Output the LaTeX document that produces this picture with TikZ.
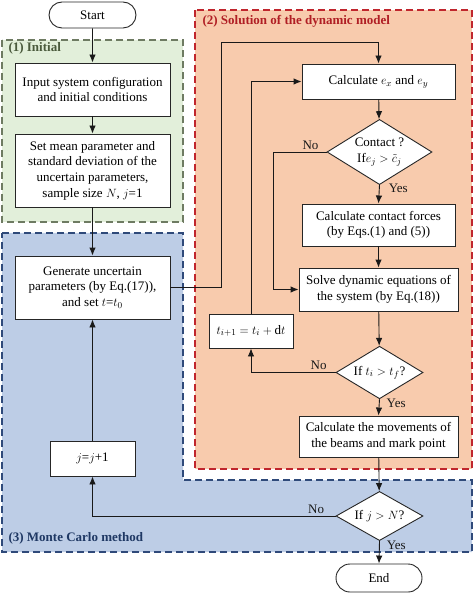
\documentclass[tikz,border=0pt]{standalone}
\usepackage{fontspec}
\setmainfont{Liberation Serif}
\usetikzlibrary{shapes.geometric, shapes.misc, arrows.meta}
\definecolor{mGreenFill}{HTML}{E2EFDA}
\definecolor{mGreenLine}{HTML}{6E7B62}
\definecolor{mGreenText}{HTML}{4A5A3C}
\definecolor{mRedFill}{HTML}{F8CBAD}
\definecolor{mRedLine}{HTML}{C0262D}
\definecolor{mRedText}{HTML}{B01E24}
\definecolor{mBlueFill}{HTML}{BDCDE6}
\definecolor{mBlueLine}{HTML}{2F4A7A}
\definecolor{mBlueText}{HTML}{1F3864}
\tikzset{
  region/.style={line width=1.1pt, dash pattern=on 7pt off 4pt},
  title/.style={anchor=west, font=\fontsize{13}{15}\selectfont\bfseries},
  procbox/.style={rectangle, draw=black!85, line width=0.9pt, fill=white, align=center, inner sep=1pt},
  decision/.style={diamond, draw=black!85, line width=0.9pt, fill=white, align=center, inner sep=-3pt},
  terminal/.style={rounded rectangle, draw=black!85, line width=0.9pt, fill=white, inner sep=1pt},
  flow/.style={->, line width=0.9pt, black!90},
  tag/.style={font=\fontsize{13}{15}\selectfont, inner sep=1pt}
}
\begin{document}
\begin{tikzpicture}[x=1pt, y=-1pt, >={Latex[length=8pt,width=6.5pt]},
  every node/.append style={font=\fontsize{13}{15.6}\selectfont}]
  \useasboundingbox (0,0) rectangle (474,593);
  % regions
  \draw[region, draw=mGreenLine, fill=mGreenFill] (2,40) rectangle (183,222);
  \draw[region, draw=mRedLine, fill=mRedFill] (195,10) rectangle (472,469);
  \draw[region, draw=mBlueLine, fill=mBlueFill] (2,233) -- (183,233) -- (183,480)
    -- (472,480) -- (472,552) -- (2,552) -- cycle;
  \node[title, text=mGreenText] (tInit) at (5,48) {(1) Initial};
  \node[title, text=mRedText] (tSol) at (199,21) {(2) Solution of the dynamic model};
  \node[title, text=mBlueText] (tMC) at (5,538) {(3) Monte Carlo method};
  % left column
  \node[terminal, minimum width=89pt, minimum height=26pt] (start) at (92.5,15) {Start};
  \node[procbox, minimum width=155pt, minimum height=53pt] (input) at (92.5,89.5)
    {Input system configuration\\and initial conditions};
  \node[procbox, minimum width=155pt, minimum height=73pt] (setmean) at (92.5,170.5)
    {Set mean parameter and\\standard deviation of the\\uncertain parameters,\\sample size $N$, $j$=1};
  \node[procbox, minimum width=155pt, minimum height=63pt] (gen) at (92.5,287.5)
    {Generate uncertain\\parameters (by Eq.(17)),\\and set $t$=$t_0$};
  \node[procbox, minimum width=85pt, minimum height=35pt] (jinc) at (92.5,458.5) {$j$=$j$+1};
  % right column
  \node[procbox, minimum width=153pt, minimum height=35pt] (calcE) at (378.5,81.5)
    {Calculate $e_x$ and $e_y$};
  \node[decision, minimum width=105pt, minimum height=62pt] (contact) at (379.5,152)
    {Contact ?\\If$e_j>\tilde{c}_j$};
  \node[procbox, minimum width=153pt, minimum height=42pt] (forces) at (378.5,225)
    {Calculate contact forces\\(by Eqs.(1) and (5))};
  \node[procbox, minimum width=159pt, minimum height=43pt] (solve) at (378.5,289.5)
    {Solve dynamic equations of\\the system (by Eq.(18))};
  \node[procbox, minimum width=84pt, minimum height=34pt] (tinc) at (251,331)
    {$t_{i+1}=t_i+\mathrm{d}t$};
  \node[decision, minimum width=87pt, minimum height=41pt] (tdia) at (379.5,372.5)
    {If $t_i>t_f$?};
  \node[procbox, minimum width=159pt, minimum height=41pt] (move) at (378.5,436.5)
    {Calculate the movements of\\the beams and mark point};
  \node[decision, minimum width=87pt, minimum height=42pt] (jdia) at (379.5,516)
    {If $j>N$?};
  \node[terminal, minimum width=88pt, minimum height=28pt] (end) at (379,578) {End};
  \coordinate (genUp) at (221,42);
  \coordinate (noTurn) at (273,152);
  % connectors
  \draw[flow] (start) -- (input);
  \draw[flow] (input) -- (setmean);
  \draw[flow] (setmean) -- (gen);
  \draw[flow] (jinc) -- (gen);
  \draw[flow] (gen.east) -| (genUp) -| (calcE.north);
  \draw[flow] (tinc.north) |- (calcE.west);
  \draw[flow] (calcE) -- (contact);
  \draw[flow] (contact.west) -- node[tag, pos=0.3, above=1pt] {No} (noTurn) |- (solve.west);
  \draw[flow] (contact.south) -- node[tag, pos=0.2, right=8pt] {Yes} (forces.north);
  \draw[flow] (forces) -- (solve);
  \draw[flow] (solve) -- (tdia);
  \draw[flow] (tdia.west) -| node[tag, pos=0.1, above=1pt] {No} (tinc.south);
  \draw[flow] (tdia.south) -- node[tag, pos=0.25, right=6pt] {Yes} (move.north);
  \draw[flow] (move) -- (jdia);
  \draw[flow] (jdia.west) -| node[tag, pos=0.04, above=1pt] {No} (jinc.south);
  \draw[flow] (jdia.south) -- node[tag, pos=0.2, right=6pt] {Yes} (end.north);
\end{tikzpicture}
\end{document}
